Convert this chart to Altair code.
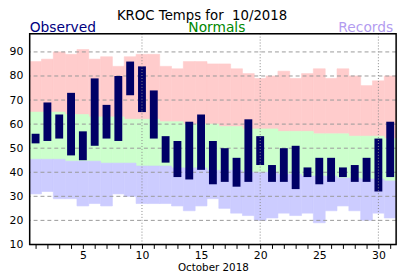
import altair as alt
import pandas as pd

days = list(range(1, 32))
obs_hi = [56, 69, 64, 73, 57, 79, 68, 80, 86, 84, 74, 55, 53, 61, 64, 53, 50, 46, 62, 55, 43, 50, 51, 42, 46, 46, 42, 43, 46, 54, 61]
obs_lo = [52, 53, 54, 47, 45, 51, 54, 53, 72, 65, 54, 44, 38, 37, 41, 35, 36, 34, 36, 43, 36, 36, 33, 38, 35, 36, 38, 36, 36, 32, 38]
norm_hi = [65, 65, 65, 64, 64, 63, 63, 63, 62, 62, 62, 61, 61, 60, 60, 60, 59, 59, 58, 58, 58, 57, 57, 57, 56, 56, 56, 55, 55, 55, 54]
norm_lo = [45.4, 45.4, 45.4, 44.6, 44.6, 44.6, 43.8, 43.8, 43.8, 42.6, 42.6, 42.6, 41.8, 41.8, 41.8,
           40.8, 40.8, 40.8, 40.0, 40.0, 40.0, 39.2, 39.2, 38.4, 38.4, 38.4, 37.6, 37.6, 37.2, 37.2, 36.4]
rec_hi = [86, 87, 90, 89, 91, 87, 88, 84, 88, 89, 89, 84, 83, 86, 86, 85, 85, 83, 81, 79, 80, 82, 79, 81, 83, 79, 83, 80, 76, 78, 80]
rec_lo = [31, 32, 29, 29, 26, 27, 26, 31, 30, 27, 27, 27, 26, 24, 26, 29, 25, 23, 22, 20, 21, 23, 22, 23, 19, 24, 26, 24, 20, 23, 21]

y_ticks = [10, 20, 30, 40, 50, 60, 70, 80, 90]
grid_y = [20, 30, 40, 50, 60, 70, 80, 90]
grid_x = [10, 20, 30]
x_domain = [0.5, 31.5]
y_domain = [10, 97.6]

title_text = "KROC Temps for\u00a0 10/2018"
legend_labels = ["Observed", "Normals", "Records"]
legend_colors = ["#000080", "#008800", "#b39cf0"]
x_title = "October 2018"

FONT = "DejaVu Sans"

df = pd.DataFrame({
    "day": days, "obs_hi": obs_hi, "obs_lo": obs_lo,
    "norm_hi": norm_hi, "norm_lo": norm_lo,
    "rec_hi": rec_hi, "rec_lo": rec_lo,
})

xscale = alt.Scale(domain=x_domain, nice=False, zero=False, padding=0)
yscale = alt.Scale(domain=y_domain, nice=False, zero=False, padding=0)

x_axis = alt.Axis(values=days, labelExpr="datum.value % 5 == 0 ? datum.label : ''",
                  domain=False, grid=False, ticks=True, tickSize=4, tickColor="black",
                  tickWidth=1, labelFont=FONT, labelFontSize=11, labelColor="black",
                  labelPadding=1, labelFlush=False, title=x_title, titleFont=FONT,
                  titleFontSize=10.5, titleFontWeight="normal", titleColor="black",
                  titlePadding=2, zindex=1)
y_axis = alt.Axis(values=y_ticks, domain=False, grid=False, ticks=False,
                  labelFont=FONT, labelFontSize=11, labelColor="black",
                  labelPadding=7, title="", zindex=1)


def X(field):
    return alt.X(field, scale=xscale, axis=x_axis)


def Y(field):
    return alt.Y(field, scale=yscale, axis=y_axis)


base = alt.Chart(df).transform_calculate(
    x0="datum.day - 0.5", x1="datum.day + 0.5"
)


def band(color, lo, hi):
    return base.mark_rect(color=color, stroke=color, strokeWidth=0.6).encode(
        x=X("x0:Q"), x2="x1:Q", y=Y(lo + ":Q"), y2=hi + ":Q")


pink = band("#ffcccc", "norm_hi", "rec_hi")
green = band("#ccffcc", "norm_lo", "norm_hi")
lav = band("#ccccff", "rec_lo", "norm_lo")

hgrid = alt.Chart(pd.DataFrame({"v": grid_y})).mark_rule(
    color="#999999", strokeDash=[4, 3], strokeWidth=1
).encode(y=Y("v:Q"))

bars = alt.Chart(df).mark_bar(size=8, color="#000066").encode(
    x=X("day:Q"), y=Y("obs_hi:Q"), y2="obs_lo:Q")

vgrid = alt.Chart(pd.DataFrame({"v": grid_x})).mark_rule(
    color="#888888", strokeDash=[1, 2], strokeWidth=1
).encode(x=X("v:Q"))

frame = alt.Chart(pd.DataFrame({"x0": [x_domain[0]], "x1": [x_domain[1]],
                                "y0": [y_domain[0]], "y1": [y_domain[1]]})).mark_rect(
    filled=False, stroke="black", strokeWidth=1.5
).encode(x=X("x0:Q"), x2="x1:Q", y=Y("y0:Q"), y2="y1:Q")

title_mark = alt.Chart(pd.DataFrame({"t": [title_text]})).mark_text(
    align="center", baseline="alphabetic", font=FONT, fontSize=13.5, color="black"
).encode(text="t:N", x=alt.value(175), y=alt.value(-13.5))

leg_obs = alt.Chart(pd.DataFrame({"t": [legend_labels[0]]})).mark_text(
    align="left", baseline="alphabetic", font=FONT, fontSize=14, color=legend_colors[0]
).encode(text="t:N", x=alt.value(0), y=alt.value(-2))
leg_norm = alt.Chart(pd.DataFrame({"t": [legend_labels[1]]})).mark_text(
    align="center", baseline="alphabetic", font=FONT, fontSize=14, color=legend_colors[1]
).encode(text="t:N", x=alt.value(190), y=alt.value(-2))
leg_rec = alt.Chart(pd.DataFrame({"t": [legend_labels[2]]})).mark_text(
    align="right", baseline="alphabetic", font=FONT, fontSize=14, color=legend_colors[2]
).encode(text="t:N", x=alt.value(369), y=alt.value(-2))

chart = alt.layer(
    pink, green, lav, hgrid, bars, vgrid, frame, title_mark, leg_obs, leg_norm, leg_rec
).properties(
    width=372, height=214,
    padding={"left": 22, "top": 24, "right": 8, "bottom": 30},
    autosize=alt.AutoSizeParams(type="none"),
).configure_view(stroke=None).configure(background="white")

chart.save("out.html", embed_options={"renderer": "svg", "actions": False})
